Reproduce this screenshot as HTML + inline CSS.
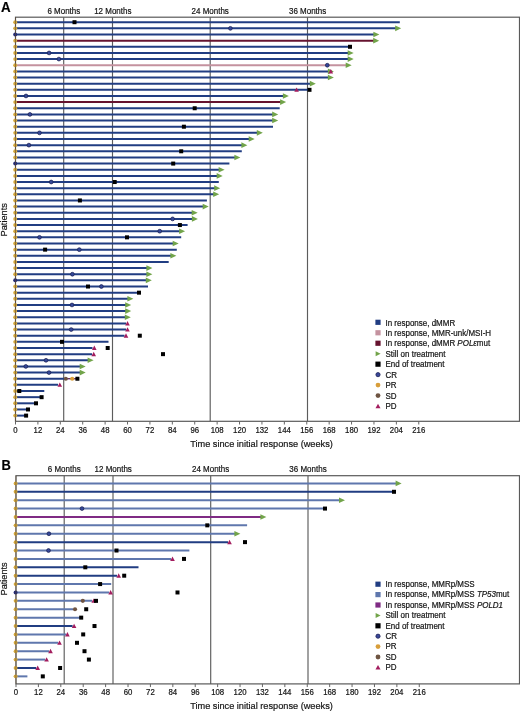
<!DOCTYPE html>
<html><head><meta charset="utf-8"><style>
html,body{margin:0;padding:0;background:#fff;}
svg{display:block;filter:blur(0.3px);}
text{font-family:"Liberation Sans",Arial,sans-serif;fill:#151515;stroke:#151515;stroke-width:0.2px;}
.tk{font-size:7.8px;text-anchor:middle;}
.mo{font-size:8px;text-anchor:middle;}
.lg{font-size:8px;}
.ax{font-size:9.2px;text-anchor:middle;}
.pl{font-size:14.4px;font-weight:bold;fill:#000;}
</style></head><body>
<svg width="520" height="712" viewBox="0 0 520 712">
<line x1="63.7" y1="17.2" x2="63.7" y2="421.3" stroke="#5c5c5c" stroke-width="1.15"/>
<line x1="112.5" y1="17.2" x2="112.5" y2="421.3" stroke="#5c5c5c" stroke-width="1.15"/>
<line x1="210.2" y1="17.2" x2="210.2" y2="421.3" stroke="#5c5c5c" stroke-width="1.15"/>
<line x1="307.5" y1="17.2" x2="307.5" y2="421.3" stroke="#5c5c5c" stroke-width="1.15"/>
<rect x="15.5" y="17.2" width="504" height="404.1" fill="none" stroke="#5a5a5a" stroke-width="1.2"/>
<line x1="15.5" y1="421.3" x2="15.5" y2="424.5" stroke="#666" stroke-width="1"/>
<text transform="translate(15.5,432.5) scale(1,1.1)" class="tk">0</text>
<line x1="37.9" y1="421.3" x2="37.9" y2="424.5" stroke="#666" stroke-width="1"/>
<text transform="translate(37.9,432.5) scale(1,1.1)" class="tk">12</text>
<line x1="60.31" y1="421.3" x2="60.31" y2="424.5" stroke="#666" stroke-width="1"/>
<text transform="translate(60.31,432.5) scale(1,1.1)" class="tk">24</text>
<line x1="82.71" y1="421.3" x2="82.71" y2="424.5" stroke="#666" stroke-width="1"/>
<text transform="translate(82.71,432.5) scale(1,1.1)" class="tk">36</text>
<line x1="105.12" y1="421.3" x2="105.12" y2="424.5" stroke="#666" stroke-width="1"/>
<text transform="translate(105.12,432.5) scale(1,1.1)" class="tk">48</text>
<line x1="127.52" y1="421.3" x2="127.52" y2="424.5" stroke="#666" stroke-width="1"/>
<text transform="translate(127.52,432.5) scale(1,1.1)" class="tk">60</text>
<line x1="149.92" y1="421.3" x2="149.92" y2="424.5" stroke="#666" stroke-width="1"/>
<text transform="translate(149.92,432.5) scale(1,1.1)" class="tk">72</text>
<line x1="172.33" y1="421.3" x2="172.33" y2="424.5" stroke="#666" stroke-width="1"/>
<text transform="translate(172.33,432.5) scale(1,1.1)" class="tk">84</text>
<line x1="194.73" y1="421.3" x2="194.73" y2="424.5" stroke="#666" stroke-width="1"/>
<text transform="translate(194.73,432.5) scale(1,1.1)" class="tk">96</text>
<line x1="217.14" y1="421.3" x2="217.14" y2="424.5" stroke="#666" stroke-width="1"/>
<text transform="translate(217.14,432.5) scale(1,1.1)" class="tk">108</text>
<line x1="239.54" y1="421.3" x2="239.54" y2="424.5" stroke="#666" stroke-width="1"/>
<text transform="translate(239.54,432.5) scale(1,1.1)" class="tk">120</text>
<line x1="261.94" y1="421.3" x2="261.94" y2="424.5" stroke="#666" stroke-width="1"/>
<text transform="translate(261.94,432.5) scale(1,1.1)" class="tk">132</text>
<line x1="284.35" y1="421.3" x2="284.35" y2="424.5" stroke="#666" stroke-width="1"/>
<text transform="translate(284.35,432.5) scale(1,1.1)" class="tk">144</text>
<line x1="306.75" y1="421.3" x2="306.75" y2="424.5" stroke="#666" stroke-width="1"/>
<text transform="translate(306.75,432.5) scale(1,1.1)" class="tk">156</text>
<line x1="329.16" y1="421.3" x2="329.16" y2="424.5" stroke="#666" stroke-width="1"/>
<text transform="translate(329.16,432.5) scale(1,1.1)" class="tk">168</text>
<line x1="351.56" y1="421.3" x2="351.56" y2="424.5" stroke="#666" stroke-width="1"/>
<text transform="translate(351.56,432.5) scale(1,1.1)" class="tk">180</text>
<line x1="373.96" y1="421.3" x2="373.96" y2="424.5" stroke="#666" stroke-width="1"/>
<text transform="translate(373.96,432.5) scale(1,1.1)" class="tk">192</text>
<line x1="396.37" y1="421.3" x2="396.37" y2="424.5" stroke="#666" stroke-width="1"/>
<text transform="translate(396.37,432.5) scale(1,1.1)" class="tk">204</text>
<line x1="418.77" y1="421.3" x2="418.77" y2="424.5" stroke="#666" stroke-width="1"/>
<text transform="translate(418.77,432.5) scale(1,1.1)" class="tk">216</text>
<line x1="15.5" y1="22.2" x2="399.8" y2="22.2" stroke="#213d82" stroke-width="2"/>
<line x1="15.5" y1="28.35" x2="396.8" y2="28.35" stroke="#213d82" stroke-width="2"/>
<line x1="15.5" y1="34.49" x2="375" y2="34.49" stroke="#213d82" stroke-width="2"/>
<line x1="15.5" y1="40.64" x2="374.8" y2="40.64" stroke="#66132f" stroke-width="2"/>
<line x1="15.5" y1="46.79" x2="350" y2="46.79" stroke="#213d82" stroke-width="2"/>
<line x1="15.5" y1="52.94" x2="349.3" y2="52.94" stroke="#213d82" stroke-width="2"/>
<line x1="15.5" y1="59.08" x2="349.3" y2="59.08" stroke="#213d82" stroke-width="2"/>
<line x1="15.5" y1="65.23" x2="347.3" y2="65.23" stroke="#c4929f" stroke-width="2"/>
<line x1="15.5" y1="71.38" x2="329.5" y2="71.38" stroke="#213d82" stroke-width="2"/>
<line x1="15.5" y1="77.52" x2="329.5" y2="77.52" stroke="#213d82" stroke-width="2"/>
<line x1="15.5" y1="83.67" x2="311.4" y2="83.67" stroke="#213d82" stroke-width="2"/>
<line x1="15.5" y1="89.82" x2="309.5" y2="89.82" stroke="#213d82" stroke-width="2"/>
<line x1="15.5" y1="95.96" x2="284.5" y2="95.96" stroke="#213d82" stroke-width="2"/>
<line x1="15.5" y1="102.11" x2="281.7" y2="102.11" stroke="#66132f" stroke-width="2"/>
<line x1="15.5" y1="108.26" x2="279.7" y2="108.26" stroke="#213d82" stroke-width="2"/>
<line x1="15.5" y1="114.41" x2="273.8" y2="114.41" stroke="#213d82" stroke-width="2"/>
<line x1="15.5" y1="120.55" x2="273.8" y2="120.55" stroke="#213d82" stroke-width="2"/>
<line x1="15.5" y1="126.7" x2="273" y2="126.7" stroke="#213d82" stroke-width="2"/>
<line x1="15.5" y1="132.85" x2="258.4" y2="132.85" stroke="#213d82" stroke-width="2"/>
<line x1="15.5" y1="138.99" x2="250.3" y2="138.99" stroke="#213d82" stroke-width="2"/>
<line x1="15.5" y1="145.14" x2="243" y2="145.14" stroke="#213d82" stroke-width="2"/>
<line x1="15.5" y1="151.29" x2="241.8" y2="151.29" stroke="#213d82" stroke-width="2"/>
<line x1="15.5" y1="157.43" x2="236" y2="157.43" stroke="#213d82" stroke-width="2"/>
<line x1="15.5" y1="163.58" x2="229.4" y2="163.58" stroke="#213d82" stroke-width="2"/>
<line x1="15.5" y1="169.73" x2="220.2" y2="169.73" stroke="#213d82" stroke-width="2"/>
<line x1="15.5" y1="175.88" x2="218.3" y2="175.88" stroke="#213d82" stroke-width="2"/>
<line x1="15.5" y1="182.02" x2="218.8" y2="182.02" stroke="#213d82" stroke-width="2"/>
<line x1="15.5" y1="188.17" x2="215.8" y2="188.17" stroke="#213d82" stroke-width="2"/>
<line x1="15.5" y1="194.32" x2="214.8" y2="194.32" stroke="#213d82" stroke-width="2"/>
<line x1="15.5" y1="200.46" x2="206.9" y2="200.46" stroke="#213d82" stroke-width="2"/>
<line x1="15.5" y1="206.61" x2="204.3" y2="206.61" stroke="#213d82" stroke-width="2"/>
<line x1="15.5" y1="212.76" x2="193.3" y2="212.76" stroke="#213d82" stroke-width="2"/>
<line x1="15.5" y1="218.9" x2="193.5" y2="218.9" stroke="#213d82" stroke-width="2"/>
<line x1="15.5" y1="225.05" x2="187.6" y2="225.05" stroke="#213d82" stroke-width="2"/>
<line x1="15.5" y1="231.2" x2="180.7" y2="231.2" stroke="#213d82" stroke-width="2"/>
<line x1="15.5" y1="237.34" x2="181.2" y2="237.34" stroke="#213d82" stroke-width="2"/>
<line x1="15.5" y1="243.49" x2="174.3" y2="243.49" stroke="#213d82" stroke-width="2"/>
<line x1="15.5" y1="249.64" x2="176.8" y2="249.64" stroke="#213d82" stroke-width="2"/>
<line x1="15.5" y1="255.79" x2="172" y2="255.79" stroke="#213d82" stroke-width="2"/>
<line x1="15.5" y1="261.93" x2="168.7" y2="261.93" stroke="#213d82" stroke-width="2"/>
<line x1="15.5" y1="268.08" x2="148" y2="268.08" stroke="#213d82" stroke-width="2"/>
<line x1="15.5" y1="274.23" x2="148" y2="274.23" stroke="#213d82" stroke-width="2"/>
<line x1="15.5" y1="280.37" x2="147.4" y2="280.37" stroke="#213d82" stroke-width="2"/>
<line x1="15.5" y1="286.52" x2="148" y2="286.52" stroke="#213d82" stroke-width="2"/>
<line x1="15.5" y1="292.67" x2="139" y2="292.67" stroke="#213d82" stroke-width="2"/>
<line x1="15.5" y1="298.81" x2="129" y2="298.81" stroke="#213d82" stroke-width="2"/>
<line x1="15.5" y1="304.96" x2="126.8" y2="304.96" stroke="#213d82" stroke-width="2"/>
<line x1="15.5" y1="311.11" x2="126.8" y2="311.11" stroke="#213d82" stroke-width="2"/>
<line x1="15.5" y1="317.26" x2="126.4" y2="317.26" stroke="#213d82" stroke-width="2"/>
<line x1="15.5" y1="323.4" x2="126" y2="323.4" stroke="#213d82" stroke-width="2"/>
<line x1="15.5" y1="329.55" x2="126" y2="329.55" stroke="#213d82" stroke-width="2"/>
<line x1="15.5" y1="335.7" x2="124.5" y2="335.7" stroke="#213d82" stroke-width="2"/>
<line x1="15.5" y1="341.84" x2="108.5" y2="341.84" stroke="#213d82" stroke-width="2"/>
<line x1="15.5" y1="347.99" x2="92.5" y2="347.99" stroke="#213d82" stroke-width="2"/>
<line x1="15.5" y1="354.14" x2="92" y2="354.14" stroke="#213d82" stroke-width="2"/>
<line x1="15.5" y1="360.29" x2="89.2" y2="360.29" stroke="#213d82" stroke-width="2"/>
<line x1="15.5" y1="366.43" x2="81.3" y2="366.43" stroke="#213d82" stroke-width="2"/>
<line x1="15.5" y1="372.58" x2="81.3" y2="372.58" stroke="#213d82" stroke-width="2"/>
<line x1="15.5" y1="378.73" x2="64" y2="378.73" stroke="#213d82" stroke-width="2"/>
<line x1="15.5" y1="384.87" x2="58" y2="384.87" stroke="#213d82" stroke-width="2"/>
<line x1="15.5" y1="391.02" x2="44.3" y2="391.02" stroke="#213d82" stroke-width="2"/>
<line x1="15.5" y1="397.17" x2="41.6" y2="397.17" stroke="#213d82" stroke-width="2"/>
<line x1="15.5" y1="403.31" x2="36" y2="403.31" stroke="#213d82" stroke-width="2"/>
<line x1="15.5" y1="409.46" x2="28" y2="409.46" stroke="#213d82" stroke-width="2"/>
<line x1="15.5" y1="415.61" x2="26.1" y2="415.61" stroke="#213d82" stroke-width="2"/>
<line x1="64" y1="378.73" x2="77" y2="378.73" stroke="#5a1d55" stroke-width="1.3"/>
<circle cx="15.2" cy="22.2" r="1.95" fill="#d3a63a"/>
<rect x="72.5" y="20.2" width="4" height="4" fill="#000"/>
<circle cx="15.2" cy="28.35" r="1.95" fill="#d3a63a"/>
<polygon points="401.2,28.35 395.2,25.55 395.2,31.15" fill="#72a44a"/>
<circle cx="230.4" cy="28.35" r="1.9" fill="#34489a" stroke="#181d4c" stroke-width="0.7"/>
<circle cx="15.2" cy="34.49" r="2.0" fill="#242b74"/>
<polygon points="379.4,34.49 373.4,31.69 373.4,37.29" fill="#72a44a"/>
<circle cx="15.2" cy="40.64" r="1.95" fill="#d3a63a"/>
<polygon points="379.2,40.64 373.2,37.84 373.2,43.44" fill="#72a44a"/>
<circle cx="15.2" cy="46.79" r="1.95" fill="#d3a63a"/>
<rect x="348" y="44.79" width="4" height="4" fill="#000"/>
<circle cx="15.2" cy="52.94" r="1.95" fill="#d3a63a"/>
<polygon points="353.7,52.94 347.7,50.14 347.7,55.73" fill="#72a44a"/>
<circle cx="49.1" cy="52.94" r="1.9" fill="#34489a" stroke="#181d4c" stroke-width="0.7"/>
<circle cx="15.2" cy="59.08" r="1.95" fill="#d3a63a"/>
<polygon points="353.7,59.08 347.7,56.28 347.7,61.88" fill="#72a44a"/>
<circle cx="58.9" cy="59.08" r="1.9" fill="#34489a" stroke="#181d4c" stroke-width="0.7"/>
<circle cx="15.2" cy="65.23" r="1.95" fill="#d3a63a"/>
<polygon points="351.7,65.23 345.7,62.43 345.7,68.03" fill="#72a44a"/>
<circle cx="327.3" cy="65.23" r="1.9" fill="#34489a" stroke="#181d4c" stroke-width="0.7"/>
<circle cx="15.2" cy="71.38" r="1.95" fill="#d3a63a"/>
<polygon points="333.9,71.38 327.9,68.58 327.9,74.18" fill="#72a44a"/>
<polygon points="330.8,68.98 333.1,73.38 328.5,73.38" fill="#a31d5e"/>
<circle cx="15.2" cy="77.52" r="1.95" fill="#d3a63a"/>
<polygon points="333.9,77.52 327.9,74.72 327.9,80.32" fill="#72a44a"/>
<circle cx="15.2" cy="83.67" r="1.95" fill="#d3a63a"/>
<polygon points="315.8,83.67 309.8,80.87 309.8,86.47" fill="#72a44a"/>
<circle cx="15.2" cy="89.82" r="1.95" fill="#d3a63a"/>
<rect x="307.5" y="87.82" width="4" height="4" fill="#000"/>
<polygon points="296.6,87.42 298.9,91.82 294.3,91.82" fill="#a31d5e"/>
<circle cx="15.2" cy="95.96" r="1.95" fill="#d3a63a"/>
<polygon points="288.9,95.96 282.9,93.16 282.9,98.76" fill="#72a44a"/>
<circle cx="26" cy="95.96" r="1.9" fill="#34489a" stroke="#181d4c" stroke-width="0.7"/>
<circle cx="15.2" cy="102.11" r="1.95" fill="#d3a63a"/>
<polygon points="286.1,102.11 280.1,99.31 280.1,104.91" fill="#72a44a"/>
<circle cx="15.2" cy="108.26" r="1.95" fill="#d3a63a"/>
<rect x="192.7" y="106.26" width="4" height="4" fill="#000"/>
<circle cx="15.2" cy="114.41" r="1.95" fill="#d3a63a"/>
<polygon points="278.2,114.41 272.2,111.61 272.2,117.2" fill="#72a44a"/>
<circle cx="29.9" cy="114.41" r="1.9" fill="#34489a" stroke="#181d4c" stroke-width="0.7"/>
<circle cx="15.2" cy="120.55" r="1.95" fill="#d3a63a"/>
<polygon points="278.2,120.55 272.2,117.75 272.2,123.35" fill="#72a44a"/>
<circle cx="15.2" cy="126.7" r="1.95" fill="#d3a63a"/>
<rect x="181.9" y="124.7" width="4" height="4" fill="#000"/>
<circle cx="15.2" cy="132.85" r="1.95" fill="#d3a63a"/>
<polygon points="262.8,132.85 256.8,130.05 256.8,135.65" fill="#72a44a"/>
<circle cx="39.5" cy="132.85" r="1.9" fill="#34489a" stroke="#181d4c" stroke-width="0.7"/>
<circle cx="15.2" cy="138.99" r="1.95" fill="#d3a63a"/>
<polygon points="254.7,138.99 248.7,136.19 248.7,141.79" fill="#72a44a"/>
<circle cx="15.2" cy="145.14" r="1.95" fill="#d3a63a"/>
<polygon points="247.4,145.14 241.4,142.34 241.4,147.94" fill="#72a44a"/>
<circle cx="28.9" cy="145.14" r="1.9" fill="#34489a" stroke="#181d4c" stroke-width="0.7"/>
<circle cx="15.2" cy="151.29" r="1.95" fill="#d3a63a"/>
<rect x="179.2" y="149.29" width="4" height="4" fill="#000"/>
<circle cx="15.2" cy="157.43" r="1.95" fill="#d3a63a"/>
<polygon points="240.4,157.43 234.4,154.63 234.4,160.23" fill="#72a44a"/>
<circle cx="15.2" cy="163.58" r="2.0" fill="#242b74"/>
<rect x="171.2" y="161.58" width="4" height="4" fill="#000"/>
<circle cx="15.2" cy="169.73" r="1.95" fill="#d3a63a"/>
<polygon points="224.6,169.73 218.6,166.93 218.6,172.53" fill="#72a44a"/>
<circle cx="15.2" cy="175.88" r="1.95" fill="#d3a63a"/>
<polygon points="222.7,175.88 216.7,173.07 216.7,178.68" fill="#72a44a"/>
<circle cx="15.2" cy="182.02" r="1.95" fill="#d3a63a"/>
<circle cx="51.2" cy="182.02" r="1.9" fill="#34489a" stroke="#181d4c" stroke-width="0.7"/>
<rect x="112.7" y="180.02" width="4" height="4" fill="#000"/>
<circle cx="15.2" cy="188.17" r="1.95" fill="#d3a63a"/>
<polygon points="220.2,188.17 214.2,185.37 214.2,190.97" fill="#72a44a"/>
<circle cx="15.2" cy="194.32" r="1.95" fill="#d3a63a"/>
<polygon points="219.2,194.32 213.2,191.52 213.2,197.12" fill="#72a44a"/>
<circle cx="15.2" cy="200.46" r="1.95" fill="#d3a63a"/>
<rect x="77.9" y="198.46" width="4" height="4" fill="#000"/>
<circle cx="15.2" cy="206.61" r="1.95" fill="#d3a63a"/>
<polygon points="208.7,206.61 202.7,203.81 202.7,209.41" fill="#72a44a"/>
<circle cx="15.2" cy="212.76" r="1.95" fill="#d3a63a"/>
<polygon points="197.7,212.76 191.7,209.96 191.7,215.56" fill="#72a44a"/>
<circle cx="15.2" cy="218.9" r="1.95" fill="#d3a63a"/>
<polygon points="197.9,218.9 191.9,216.1 191.9,221.7" fill="#72a44a"/>
<circle cx="172.6" cy="218.9" r="1.9" fill="#34489a" stroke="#181d4c" stroke-width="0.7"/>
<circle cx="15.2" cy="225.05" r="1.95" fill="#d3a63a"/>
<rect x="177.9" y="223.05" width="4" height="4" fill="#000"/>
<circle cx="15.2" cy="231.2" r="1.95" fill="#d3a63a"/>
<polygon points="185.1,231.2 179.1,228.4 179.1,234" fill="#72a44a"/>
<circle cx="159.7" cy="231.2" r="1.9" fill="#34489a" stroke="#181d4c" stroke-width="0.7"/>
<circle cx="15.2" cy="237.34" r="1.95" fill="#d3a63a"/>
<circle cx="39.5" cy="237.34" r="1.9" fill="#34489a" stroke="#181d4c" stroke-width="0.7"/>
<rect x="125" y="235.34" width="4" height="4" fill="#000"/>
<circle cx="15.2" cy="243.49" r="1.95" fill="#d3a63a"/>
<polygon points="178.7,243.49 172.7,240.69 172.7,246.29" fill="#72a44a"/>
<circle cx="15.2" cy="249.64" r="1.95" fill="#d3a63a"/>
<rect x="43.1" y="247.64" width="4" height="4" fill="#000"/>
<circle cx="79.3" cy="249.64" r="1.9" fill="#34489a" stroke="#181d4c" stroke-width="0.7"/>
<circle cx="15.2" cy="255.79" r="1.95" fill="#d3a63a"/>
<polygon points="176.4,255.79 170.4,252.99 170.4,258.59" fill="#72a44a"/>
<circle cx="15.2" cy="261.93" r="1.95" fill="#d3a63a"/>
<circle cx="15.2" cy="268.08" r="1.95" fill="#d3a63a"/>
<polygon points="152.4,268.08 146.4,265.28 146.4,270.88" fill="#72a44a"/>
<circle cx="15.2" cy="274.23" r="1.95" fill="#d3a63a"/>
<polygon points="152.4,274.23 146.4,271.43 146.4,277.03" fill="#72a44a"/>
<circle cx="72.4" cy="274.23" r="1.9" fill="#34489a" stroke="#181d4c" stroke-width="0.7"/>
<circle cx="15.2" cy="280.37" r="2.0" fill="#242b74"/>
<polygon points="151.8,280.37 145.8,277.57 145.8,283.17" fill="#72a44a"/>
<circle cx="15.2" cy="286.52" r="1.95" fill="#d3a63a"/>
<rect x="86" y="284.52" width="4" height="4" fill="#000"/>
<circle cx="101.4" cy="286.52" r="1.9" fill="#34489a" stroke="#181d4c" stroke-width="0.7"/>
<circle cx="15.2" cy="292.67" r="1.95" fill="#d3a63a"/>
<rect x="137" y="290.67" width="4" height="4" fill="#000"/>
<circle cx="15.2" cy="298.81" r="1.95" fill="#d3a63a"/>
<polygon points="133.4,298.81 127.4,296.01 127.4,301.62" fill="#72a44a"/>
<circle cx="15.2" cy="304.96" r="1.95" fill="#d3a63a"/>
<polygon points="131.2,304.96 125.2,302.16 125.2,307.76" fill="#72a44a"/>
<circle cx="72" cy="304.96" r="1.9" fill="#34489a" stroke="#181d4c" stroke-width="0.7"/>
<circle cx="15.2" cy="311.11" r="1.95" fill="#d3a63a"/>
<polygon points="131.2,311.11 125.2,308.31 125.2,313.91" fill="#72a44a"/>
<circle cx="15.2" cy="317.26" r="1.95" fill="#d3a63a"/>
<polygon points="130.8,317.26 124.8,314.46 124.8,320.06" fill="#72a44a"/>
<circle cx="15.2" cy="323.4" r="1.95" fill="#d3a63a"/>
<polygon points="127.5,321 129.8,325.4 125.2,325.4" fill="#a31d5e"/>
<circle cx="15.2" cy="329.55" r="1.95" fill="#d3a63a"/>
<circle cx="71.2" cy="329.55" r="1.9" fill="#34489a" stroke="#181d4c" stroke-width="0.7"/>
<polygon points="127.5,327.15 129.8,331.55 125.2,331.55" fill="#a31d5e"/>
<circle cx="15.2" cy="335.7" r="1.95" fill="#d3a63a"/>
<polygon points="126,333.3 128.3,337.7 123.7,337.7" fill="#a31d5e"/>
<rect x="137.8" y="333.7" width="4" height="4" fill="#000"/>
<circle cx="15.2" cy="341.84" r="1.95" fill="#d3a63a"/>
<rect x="60" y="339.84" width="4" height="4" fill="#000"/>
<circle cx="15.2" cy="347.99" r="1.95" fill="#d3a63a"/>
<polygon points="94.3,345.59 96.6,349.99 92,349.99" fill="#a31d5e"/>
<rect x="105.7" y="345.99" width="4" height="4" fill="#000"/>
<circle cx="15.2" cy="354.14" r="1.95" fill="#d3a63a"/>
<polygon points="93.7,351.74 96,356.14 91.4,356.14" fill="#a31d5e"/>
<rect x="161" y="352.14" width="4" height="4" fill="#000"/>
<circle cx="15.2" cy="360.29" r="1.95" fill="#d3a63a"/>
<polygon points="93.6,360.29 87.6,357.49 87.6,363.09" fill="#72a44a"/>
<circle cx="46" cy="360.29" r="1.9" fill="#34489a" stroke="#181d4c" stroke-width="0.7"/>
<circle cx="15.2" cy="366.43" r="1.95" fill="#d3a63a"/>
<polygon points="85.7,366.43 79.7,363.63 79.7,369.23" fill="#72a44a"/>
<circle cx="25.8" cy="366.43" r="1.9" fill="#34489a" stroke="#181d4c" stroke-width="0.7"/>
<circle cx="15.2" cy="372.58" r="1.95" fill="#d3a63a"/>
<polygon points="85.7,372.58 79.7,369.78 79.7,375.38" fill="#72a44a"/>
<circle cx="49" cy="372.58" r="1.9" fill="#34489a" stroke="#181d4c" stroke-width="0.7"/>
<circle cx="15.2" cy="378.73" r="1.95" fill="#d3a63a"/>
<circle cx="65.8" cy="378.73" r="2.1" fill="#6e5442"/>
<circle cx="72.2" cy="378.73" r="2.1" fill="#d89e3a"/>
<rect x="75.4" y="376.73" width="4" height="4" fill="#000"/>
<circle cx="15.2" cy="384.87" r="1.95" fill="#d3a63a"/>
<polygon points="59.8,382.47 62.1,386.87 57.5,386.87" fill="#a31d5e"/>
<circle cx="15.2" cy="391.02" r="1.95" fill="#d3a63a"/>
<rect x="17.3" y="389.02" width="4" height="4" fill="#000"/>
<circle cx="15.2" cy="397.17" r="1.95" fill="#d3a63a"/>
<rect x="39.6" y="395.17" width="4" height="4" fill="#000"/>
<circle cx="15.2" cy="403.31" r="1.95" fill="#d3a63a"/>
<rect x="34" y="401.31" width="4" height="4" fill="#000"/>
<circle cx="15.2" cy="409.46" r="1.95" fill="#d3a63a"/>
<rect x="26" y="407.46" width="4" height="4" fill="#000"/>
<circle cx="15.2" cy="415.61" r="1.95" fill="#d3a63a"/>
<rect x="24.1" y="413.61" width="4" height="4" fill="#000"/>
<line x1="15.5" y1="17.2" x2="15.5" y2="421.3" stroke="#5a4630" stroke-width="1" opacity="0.55"/>
<text transform="translate(63.8,13.7) scale(1,1.1)" class="mo">6 Months</text>
<text transform="translate(112.8,13.7) scale(1,1.1)" class="mo">12 Months</text>
<text transform="translate(210.2,13.7) scale(1,1.1)" class="mo">24 Months</text>
<text transform="translate(307.6,13.7) scale(1,1.1)" class="mo">36 Months</text>
<text transform="translate(1.1,11.8) scale(0.93,1)" class="pl">A</text>
<text x="261.5" y="446.5" class="ax">Time since initial response (weeks)</text>
<text transform="translate(7.3,219.8) rotate(-90)" class="ax">Patients</text>
<rect x="375.4" y="319.7" width="5.2" height="5.2" fill="#213d82"/>
<text transform="translate(385.5,325.5) scale(1,1.1)" class="lg">In response, dMMR</text>
<rect x="375.4" y="330.17" width="5.2" height="5.2" fill="#c4929f"/>
<text transform="translate(385.5,335.97) scale(1,1.1)" class="lg">In response, MMR-unk/MSI-H</text>
<rect x="375.4" y="340.64" width="5.2" height="5.2" fill="#66132f"/>
<text transform="translate(385.5,346.44) scale(1,1.1)" class="lg">In response, dMMR <tspan font-style="italic">POLε</tspan>mut</text>
<polygon points="380.6,353.71 375.6,351.21 375.6,356.21" fill="#72a44a"/>
<text transform="translate(385.5,356.91) scale(1,1.1)" class="lg">Still on treatment</text>
<rect x="375.4" y="361.58" width="5.2" height="5.2" fill="#000"/>
<text transform="translate(385.5,367.38) scale(1,1.1)" class="lg">End of treatment</text>
<circle cx="378" cy="374.65" r="2.1" fill="#3a4898" stroke="#1c2058" stroke-width="0.8"/>
<text transform="translate(385.5,377.85) scale(1,1.1)" class="lg">CR</text>
<circle cx="378" cy="385.12" r="2.4" fill="#d89e3a"/>
<text transform="translate(385.5,388.32) scale(1,1.1)" class="lg">PR</text>
<circle cx="378" cy="395.59" r="2.4" fill="#6e5442"/>
<text transform="translate(385.5,398.79) scale(1,1.1)" class="lg">SD</text>
<polygon points="378,403.66 380.5,408.16 375.5,408.16" fill="#a31d5e"/>
<text transform="translate(385.5,409.26) scale(1,1.1)" class="lg">PD</text>
<line x1="64.2" y1="475.7" x2="64.2" y2="683.9" stroke="#5c5c5c" stroke-width="1.15"/>
<line x1="113" y1="475.7" x2="113" y2="683.9" stroke="#5c5c5c" stroke-width="1.15"/>
<line x1="210.7" y1="475.7" x2="210.7" y2="683.9" stroke="#5c5c5c" stroke-width="1.15"/>
<line x1="308" y1="475.7" x2="308" y2="683.9" stroke="#5c5c5c" stroke-width="1.15"/>
<rect x="16" y="475.7" width="503.5" height="208.2" fill="none" stroke="#5a5a5a" stroke-width="1.2"/>
<line x1="16" y1="683.9" x2="16" y2="687.1" stroke="#666" stroke-width="1"/>
<text transform="translate(16,694.8) scale(1,1.1)" class="tk">0</text>
<line x1="38.4" y1="683.9" x2="38.4" y2="687.1" stroke="#666" stroke-width="1"/>
<text transform="translate(38.4,694.8) scale(1,1.1)" class="tk">12</text>
<line x1="60.81" y1="683.9" x2="60.81" y2="687.1" stroke="#666" stroke-width="1"/>
<text transform="translate(60.81,694.8) scale(1,1.1)" class="tk">24</text>
<line x1="83.21" y1="683.9" x2="83.21" y2="687.1" stroke="#666" stroke-width="1"/>
<text transform="translate(83.21,694.8) scale(1,1.1)" class="tk">36</text>
<line x1="105.62" y1="683.9" x2="105.62" y2="687.1" stroke="#666" stroke-width="1"/>
<text transform="translate(105.62,694.8) scale(1,1.1)" class="tk">48</text>
<line x1="128.02" y1="683.9" x2="128.02" y2="687.1" stroke="#666" stroke-width="1"/>
<text transform="translate(128.02,694.8) scale(1,1.1)" class="tk">60</text>
<line x1="150.42" y1="683.9" x2="150.42" y2="687.1" stroke="#666" stroke-width="1"/>
<text transform="translate(150.42,694.8) scale(1,1.1)" class="tk">72</text>
<line x1="172.83" y1="683.9" x2="172.83" y2="687.1" stroke="#666" stroke-width="1"/>
<text transform="translate(172.83,694.8) scale(1,1.1)" class="tk">84</text>
<line x1="195.23" y1="683.9" x2="195.23" y2="687.1" stroke="#666" stroke-width="1"/>
<text transform="translate(195.23,694.8) scale(1,1.1)" class="tk">96</text>
<line x1="217.64" y1="683.9" x2="217.64" y2="687.1" stroke="#666" stroke-width="1"/>
<text transform="translate(217.64,694.8) scale(1,1.1)" class="tk">108</text>
<line x1="240.04" y1="683.9" x2="240.04" y2="687.1" stroke="#666" stroke-width="1"/>
<text transform="translate(240.04,694.8) scale(1,1.1)" class="tk">120</text>
<line x1="262.44" y1="683.9" x2="262.44" y2="687.1" stroke="#666" stroke-width="1"/>
<text transform="translate(262.44,694.8) scale(1,1.1)" class="tk">132</text>
<line x1="284.85" y1="683.9" x2="284.85" y2="687.1" stroke="#666" stroke-width="1"/>
<text transform="translate(284.85,694.8) scale(1,1.1)" class="tk">144</text>
<line x1="307.25" y1="683.9" x2="307.25" y2="687.1" stroke="#666" stroke-width="1"/>
<text transform="translate(307.25,694.8) scale(1,1.1)" class="tk">156</text>
<line x1="329.66" y1="683.9" x2="329.66" y2="687.1" stroke="#666" stroke-width="1"/>
<text transform="translate(329.66,694.8) scale(1,1.1)" class="tk">168</text>
<line x1="352.06" y1="683.9" x2="352.06" y2="687.1" stroke="#666" stroke-width="1"/>
<text transform="translate(352.06,694.8) scale(1,1.1)" class="tk">180</text>
<line x1="374.46" y1="683.9" x2="374.46" y2="687.1" stroke="#666" stroke-width="1"/>
<text transform="translate(374.46,694.8) scale(1,1.1)" class="tk">192</text>
<line x1="396.87" y1="683.9" x2="396.87" y2="687.1" stroke="#666" stroke-width="1"/>
<text transform="translate(396.87,694.8) scale(1,1.1)" class="tk">204</text>
<line x1="419.27" y1="683.9" x2="419.27" y2="687.1" stroke="#666" stroke-width="1"/>
<text transform="translate(419.27,694.8) scale(1,1.1)" class="tk">216</text>
<line x1="15.5" y1="483.4" x2="397.2" y2="483.4" stroke="#5f77ad" stroke-width="2"/>
<line x1="15.5" y1="491.79" x2="394" y2="491.79" stroke="#213d82" stroke-width="2"/>
<line x1="15.5" y1="500.18" x2="340.6" y2="500.18" stroke="#5f77ad" stroke-width="2"/>
<line x1="15.5" y1="508.57" x2="325" y2="508.57" stroke="#5f77ad" stroke-width="2"/>
<line x1="15.5" y1="516.96" x2="262" y2="516.96" stroke="#7f2b84" stroke-width="2"/>
<line x1="15.5" y1="525.35" x2="247.1" y2="525.35" stroke="#5f77ad" stroke-width="2"/>
<line x1="15.5" y1="533.74" x2="236" y2="533.74" stroke="#5f77ad" stroke-width="2"/>
<line x1="15.5" y1="542.13" x2="228" y2="542.13" stroke="#213d82" stroke-width="2"/>
<line x1="15.5" y1="550.52" x2="189.4" y2="550.52" stroke="#5f77ad" stroke-width="2"/>
<line x1="15.5" y1="558.91" x2="171" y2="558.91" stroke="#5f77ad" stroke-width="2"/>
<line x1="15.5" y1="567.3" x2="138.5" y2="567.3" stroke="#213d82" stroke-width="2"/>
<line x1="15.5" y1="575.69" x2="117" y2="575.69" stroke="#213d82" stroke-width="2"/>
<line x1="15.5" y1="584.08" x2="111.2" y2="584.08" stroke="#5f77ad" stroke-width="2"/>
<line x1="15.5" y1="592.47" x2="109" y2="592.47" stroke="#5f77ad" stroke-width="2"/>
<line x1="15.5" y1="600.86" x2="92" y2="600.86" stroke="#5f77ad" stroke-width="2"/>
<line x1="15.5" y1="609.25" x2="73" y2="609.25" stroke="#5f77ad" stroke-width="2"/>
<line x1="15.5" y1="617.64" x2="81.2" y2="617.64" stroke="#5f77ad" stroke-width="2"/>
<line x1="15.5" y1="626.03" x2="72.6" y2="626.03" stroke="#213d82" stroke-width="2"/>
<line x1="15.5" y1="634.42" x2="66" y2="634.42" stroke="#5f77ad" stroke-width="2"/>
<line x1="15.5" y1="642.81" x2="58" y2="642.81" stroke="#5f77ad" stroke-width="2"/>
<line x1="15.5" y1="651.2" x2="49" y2="651.2" stroke="#5f77ad" stroke-width="2"/>
<line x1="15.5" y1="659.59" x2="45" y2="659.59" stroke="#5f77ad" stroke-width="2"/>
<line x1="15.5" y1="667.98" x2="36.2" y2="667.98" stroke="#213d82" stroke-width="2"/>
<line x1="15.5" y1="676.37" x2="27.4" y2="676.37" stroke="#5f77ad" stroke-width="2"/>
<circle cx="15.6" cy="483.4" r="1.95" fill="#d3a63a"/>
<polygon points="401.6,483.4 395.6,480.6 395.6,486.2" fill="#72a44a"/>
<circle cx="15.6" cy="491.79" r="1.95" fill="#d3a63a"/>
<rect x="392" y="489.79" width="4" height="4" fill="#000"/>
<circle cx="15.6" cy="500.18" r="1.95" fill="#d3a63a"/>
<polygon points="345,500.18 339,497.38 339,502.98" fill="#72a44a"/>
<circle cx="15.6" cy="508.57" r="1.95" fill="#d3a63a"/>
<rect x="323" y="506.57" width="4" height="4" fill="#000"/>
<circle cx="82" cy="508.57" r="1.9" fill="#34489a" stroke="#181d4c" stroke-width="0.7"/>
<circle cx="15.6" cy="516.96" r="1.95" fill="#d3a63a"/>
<polygon points="266.4,516.96 260.4,514.16 260.4,519.76" fill="#72a44a"/>
<circle cx="15.6" cy="525.35" r="1.95" fill="#d3a63a"/>
<rect x="205.3" y="523.35" width="4" height="4" fill="#000"/>
<circle cx="15.6" cy="533.74" r="1.95" fill="#d3a63a"/>
<polygon points="240.4,533.74 234.4,530.94 234.4,536.54" fill="#72a44a"/>
<circle cx="48.9" cy="533.74" r="1.9" fill="#34489a" stroke="#181d4c" stroke-width="0.7"/>
<circle cx="15.6" cy="542.13" r="1.95" fill="#d3a63a"/>
<polygon points="229.5,539.73 231.8,544.13 227.2,544.13" fill="#a31d5e"/>
<rect x="243" y="540.13" width="4" height="4" fill="#000"/>
<circle cx="15.6" cy="550.52" r="1.95" fill="#d3a63a"/>
<circle cx="48.5" cy="550.52" r="1.9" fill="#34489a" stroke="#181d4c" stroke-width="0.7"/>
<rect x="114.5" y="548.52" width="4" height="4" fill="#000"/>
<circle cx="15.6" cy="558.91" r="1.95" fill="#d3a63a"/>
<polygon points="172.5,556.51 174.8,560.91 170.2,560.91" fill="#a31d5e"/>
<rect x="182" y="556.91" width="4" height="4" fill="#000"/>
<circle cx="15.6" cy="567.3" r="1.95" fill="#d3a63a"/>
<rect x="83.3" y="565.3" width="4" height="4" fill="#000"/>
<circle cx="15.6" cy="575.69" r="1.95" fill="#d3a63a"/>
<polygon points="118.7,573.29 121,577.69 116.4,577.69" fill="#a31d5e"/>
<rect x="122.2" y="573.69" width="4" height="4" fill="#000"/>
<circle cx="15.6" cy="584.08" r="1.95" fill="#d3a63a"/>
<rect x="98.1" y="582.08" width="4" height="4" fill="#000"/>
<circle cx="15.6" cy="592.47" r="2.0" fill="#242b74"/>
<polygon points="110.6,590.07 112.9,594.47 108.3,594.47" fill="#a31d5e"/>
<rect x="175.5" y="590.47" width="4" height="4" fill="#000"/>
<circle cx="15.6" cy="600.86" r="1.95" fill="#d3a63a"/>
<circle cx="82.8" cy="600.86" r="2.1" fill="#6e5442"/>
<polygon points="93.7,598.46 96,602.86 91.4,602.86" fill="#a31d5e"/>
<rect x="94" y="598.86" width="4" height="4" fill="#000"/>
<circle cx="15.6" cy="609.25" r="1.95" fill="#d3a63a"/>
<circle cx="75" cy="609.25" r="2.1" fill="#6e5442"/>
<rect x="84.2" y="607.25" width="4" height="4" fill="#000"/>
<circle cx="15.6" cy="617.64" r="1.95" fill="#d3a63a"/>
<rect x="79.2" y="615.64" width="4" height="4" fill="#000"/>
<circle cx="15.6" cy="626.03" r="1.95" fill="#d3a63a"/>
<polygon points="74.1,623.63 76.4,628.03 71.8,628.03" fill="#a31d5e"/>
<rect x="92.5" y="624.03" width="4" height="4" fill="#000"/>
<circle cx="15.6" cy="634.42" r="1.95" fill="#d3a63a"/>
<polygon points="67.4,632.02 69.7,636.42 65.1,636.42" fill="#a31d5e"/>
<rect x="81.2" y="632.42" width="4" height="4" fill="#000"/>
<circle cx="15.6" cy="642.81" r="1.95" fill="#d3a63a"/>
<polygon points="59.5,640.41 61.8,644.81 57.2,644.81" fill="#a31d5e"/>
<rect x="75" y="640.81" width="4" height="4" fill="#000"/>
<circle cx="15.6" cy="651.2" r="1.95" fill="#d3a63a"/>
<polygon points="50.5,648.8 52.8,653.2 48.2,653.2" fill="#a31d5e"/>
<rect x="82.5" y="649.2" width="4" height="4" fill="#000"/>
<circle cx="15.6" cy="659.59" r="1.95" fill="#d3a63a"/>
<polygon points="46.6,657.19 48.9,661.59 44.3,661.59" fill="#a31d5e"/>
<rect x="86.9" y="657.59" width="4" height="4" fill="#000"/>
<circle cx="15.6" cy="667.98" r="1.95" fill="#d3a63a"/>
<polygon points="37.7,665.58 40,669.98 35.4,669.98" fill="#a31d5e"/>
<rect x="58.1" y="665.98" width="4" height="4" fill="#000"/>
<circle cx="15.6" cy="676.37" r="1.95" fill="#d3a63a"/>
<rect x="40.8" y="674.37" width="4" height="4" fill="#000"/>
<line x1="15.9" y1="475.7" x2="15.9" y2="683.9" stroke="#5a4630" stroke-width="1" opacity="0.55"/>
<text transform="translate(64.2,472.3) scale(1,1.1)" class="mo">6 Months</text>
<text transform="translate(113.2,472.3) scale(1,1.1)" class="mo">12 Months</text>
<text transform="translate(210.6,472.3) scale(1,1.1)" class="mo">24 Months</text>
<text transform="translate(308,472.3) scale(1,1.1)" class="mo">36 Months</text>
<text transform="translate(1.6,470.3) scale(0.9,1)" class="pl">B</text>
<text x="261.5" y="708.6" class="ax">Time since initial response (weeks)</text>
<text transform="translate(7.4,578.9) rotate(-90)" class="ax">Patients</text>
<rect x="375.4" y="581.6" width="5.2" height="5.2" fill="#213d82"/>
<text transform="translate(385.5,587) scale(1,1.1)" class="lg">In response, MMRp/MSS</text>
<rect x="375.4" y="592" width="5.2" height="5.2" fill="#5f77ad"/>
<text transform="translate(385.5,597.4) scale(1,1.1)" class="lg">In response, MMRp/MSS <tspan font-style="italic">TP53</tspan>mut</text>
<rect x="375.4" y="602.4" width="5.2" height="5.2" fill="#7f2b84"/>
<text transform="translate(385.5,607.8) scale(1,1.1)" class="lg">In response, MMRp/MSS <tspan font-style="italic">POLD1</tspan></text>
<polygon points="380.6,615.4 375.6,612.9 375.6,617.9" fill="#72a44a"/>
<text transform="translate(385.5,618.2) scale(1,1.1)" class="lg">Still on treatment</text>
<rect x="375.4" y="623.2" width="5.2" height="5.2" fill="#000"/>
<text transform="translate(385.5,628.6) scale(1,1.1)" class="lg">End of treatment</text>
<circle cx="378" cy="636.2" r="2.1" fill="#3a4898" stroke="#1c2058" stroke-width="0.8"/>
<text transform="translate(385.5,639) scale(1,1.1)" class="lg">CR</text>
<circle cx="378" cy="646.6" r="2.4" fill="#d89e3a"/>
<text transform="translate(385.5,649.4) scale(1,1.1)" class="lg">PR</text>
<circle cx="378" cy="657" r="2.4" fill="#6e5442"/>
<text transform="translate(385.5,659.8) scale(1,1.1)" class="lg">SD</text>
<polygon points="378,665 380.5,669.5 375.5,669.5" fill="#a31d5e"/>
<text transform="translate(385.5,670.2) scale(1,1.1)" class="lg">PD</text>
</svg>
</body></html>
